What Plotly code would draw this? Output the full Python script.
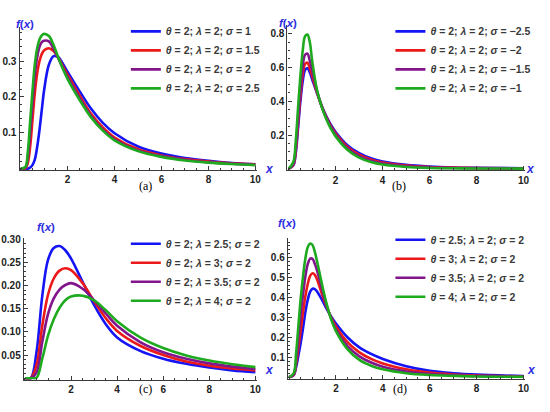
import plotly.graph_objects as go

# chart size
W, H = 550, 412

# colours of the four curves in every panel
colors = ["rgb(20,20,245)", "rgb(235,25,25)", "rgb(130,20,140)", "rgb(30,170,30)"]

# ---------- panel (a): theta = 2, lambda = 2, sigma varies ----------
x_a = [0, 0.2, 0.3, 0.4, 0.5, 0.6, 0.7, 0.8, 0.9, 1.0, 1.2, 1.4, 1.6, 1.8, 2.0, 2.5, 3, 3.5, 4, 5, 6, 7, 8, 9, 10]
a_sigma1 = [0, 0, 0, 0.003, 0.01, 0.025, 0.06, 0.108, 0.165, 0.22, 0.29, 0.314, 0.311, 0.292, 0.27, 0.217, 0.167, 0.128, 0.099, 0.062, 0.042, 0.030, 0.022, 0.016, 0.012]
a_sigma15 = [0, 0.001, 0.015, 0.06, 0.135, 0.21, 0.265, 0.30, 0.32, 0.33, 0.336, 0.328, 0.310, 0.285, 0.262, 0.205, 0.153, 0.115, 0.087, 0.054, 0.037, 0.027, 0.020, 0.015, 0.012]
a_sigma2 = [0, 0.003, 0.03, 0.10, 0.185, 0.26, 0.31, 0.34, 0.353, 0.357, 0.355, 0.335, 0.308, 0.28, 0.255, 0.198, 0.147, 0.109, 0.082, 0.051, 0.035, 0.025, 0.018, 0.014, 0.011]
a_sigma25 = [0, 0.005, 0.045, 0.13, 0.215, 0.29, 0.335, 0.36, 0.372, 0.376, 0.37, 0.345, 0.31, 0.278, 0.25, 0.193, 0.143, 0.106, 0.079, 0.049, 0.033, 0.023, 0.017, 0.013, 0.010]
a_names = ["<i>θ</i> = 2; <i>λ</i> = 2; <i>σ</i> = 1",
           "<i>θ</i> = 2; <i>λ</i> = 2; <i>σ</i> = 1.5",
           "<i>θ</i> = 2; <i>λ</i> = 2; <i>σ</i> = 2",
           "<i>θ</i> = 2; <i>λ</i> = 2; <i>σ</i> = 2.5"]
a_yticks = [0.1, 0.2, 0.3]

# ---------- panel (b): theta = 2, lambda = 2, negative sigma ----------
x_b = [0, 0.2, 0.3, 0.4, 0.5, 0.6, 0.7, 0.8, 0.9, 1.0, 1.2, 1.4, 1.6, 1.8, 2.0, 2.5, 3, 3.5, 4, 5, 6, 7, 8, 10]
b_sigma_m25 = [0, 0.02, 0.09, 0.24, 0.40, 0.52, 0.585, 0.595, 0.57, 0.53, 0.45, 0.375, 0.312, 0.26, 0.218, 0.14, 0.092, 0.062, 0.043, 0.023, 0.013, 0.008, 0.006, 0.003]
b_sigma_m2 = [0, 0.025, 0.105, 0.265, 0.43, 0.56, 0.62, 0.628, 0.595, 0.55, 0.455, 0.373, 0.307, 0.253, 0.21, 0.13, 0.083, 0.055, 0.037, 0.019, 0.011, 0.007, 0.004, 0.002]
b_sigma_m15 = [0, 0.03, 0.12, 0.29, 0.47, 0.61, 0.675, 0.682, 0.64, 0.58, 0.465, 0.373, 0.302, 0.247, 0.202, 0.122, 0.075, 0.048, 0.031, 0.015, 0.008, 0.005, 0.003, 0.002]
b_sigma_m1 = [0, 0.04, 0.16, 0.36, 0.55, 0.70, 0.785, 0.795, 0.75, 0.64, 0.47, 0.37, 0.295, 0.237, 0.192, 0.113, 0.066, 0.040, 0.025, 0.011, 0.005, 0.003, 0.002, 0.001]
b_names = ["<i>θ</i> = 2; <i>λ</i> = 2; <i>σ</i> = −2.5",
           "<i>θ</i> = 2; <i>λ</i> = 2; <i>σ</i> = −2",
           "<i>θ</i> = 2; <i>λ</i> = 2; <i>σ</i> = −1.5",
           "<i>θ</i> = 2; <i>λ</i> = 2; <i>σ</i> = −1"]
b_yticks = [0.2, 0.4, 0.6, 0.8]

# ---------- panel (c): theta = 2, sigma = 2, lambda varies ----------
x_c = [0, 0.25, 0.5, 0.75, 1.0, 1.25, 1.5, 1.75, 2.0, 2.5, 3.0, 3.5, 4, 5, 6, 7, 8, 9, 10]
c_lam25 = [0, 0, 0.056, 0.177, 0.255, 0.281, 0.285, 0.276, 0.258, 0.208, 0.158, 0.117, 0.088, 0.059, 0.042, 0.031, 0.023, 0.017, 0.013]
c_lam3 = [0, 0, 0.028, 0.113, 0.18, 0.215, 0.232, 0.237, 0.233, 0.205, 0.166, 0.13, 0.102, 0.07, 0.05, 0.036, 0.027, 0.021, 0.017]
c_lam35 = [0, 0, 0.012, 0.078, 0.138, 0.172, 0.191, 0.201, 0.205, 0.193, 0.168, 0.14, 0.113, 0.078, 0.056, 0.042, 0.032, 0.025, 0.02]
c_lam4 = [0, 0, 0.001, 0.042, 0.092, 0.127, 0.152, 0.168, 0.176, 0.178, 0.168, 0.147, 0.123, 0.088, 0.065, 0.049, 0.038, 0.03, 0.024]
c_names = ["<i>θ</i> = 2; <i>λ</i> = 2.5; <i>σ</i> = 2",
           "<i>θ</i> = 2; <i>λ</i> = 3; <i>σ</i> = 2",
           "<i>θ</i> = 2; <i>λ</i> = 3.5; <i>σ</i> = 2",
           "<i>θ</i> = 2; <i>λ</i> = 4; <i>σ</i> = 2"]
c_yticks = [0.05, 0.10, 0.15, 0.20, 0.25, 0.30]
c_ytext = ["0.05", "0.10", "0.15", "0.20", "0.25", "0.30"]

# ---------- panel (d): lambda = 2, sigma = 2, theta varies ----------
x_d = [0, 0.2, 0.3, 0.4, 0.5, 0.6, 0.7, 0.8, 0.9, 1.0, 1.1, 1.2, 1.4, 1.6, 1.8, 2.0, 2.5, 3, 3.5, 4, 5, 6, 7, 8, 10]
d_th25 = [0, 0.01, 0.05, 0.11, 0.175, 0.25, 0.33, 0.39, 0.43, 0.445, 0.443, 0.43, 0.39, 0.345, 0.305, 0.27, 0.2, 0.15, 0.117, 0.092, 0.055, 0.032, 0.02, 0.013, 0.006]
d_th3 = [0, 0.013, 0.065, 0.15, 0.24, 0.33, 0.41, 0.47, 0.51, 0.523, 0.515, 0.49, 0.42, 0.355, 0.30, 0.255, 0.175, 0.125, 0.092, 0.069, 0.04, 0.023, 0.014, 0.009, 0.004]
d_th35 = [0, 0.016, 0.08, 0.20, 0.32, 0.42, 0.51, 0.57, 0.596, 0.595, 0.57, 0.535, 0.445, 0.36, 0.295, 0.24, 0.155, 0.105, 0.074, 0.053, 0.029, 0.016, 0.01, 0.006, 0.003]
d_th4 = [0, 0.02, 0.12, 0.26, 0.40, 0.51, 0.60, 0.655, 0.672, 0.665, 0.63, 0.58, 0.47, 0.37, 0.29, 0.232, 0.14, 0.087, 0.058, 0.04, 0.02, 0.011, 0.007, 0.004, 0.002]
d_names = ["<i>θ</i> = 2.5; <i>λ</i> = 2; <i>σ</i> = 2",
           "<i>θ</i> = 3; <i>λ</i> = 2; <i>σ</i> = 2",
           "<i>θ</i> = 3.5; <i>λ</i> = 2; <i>σ</i> = 2",
           "<i>θ</i> = 4; <i>λ</i> = 2; <i>σ</i> = 2"]
d_yticks = [0.1, 0.2, 0.3, 0.4, 0.5, 0.6]

x_ticks = [2, 4, 6, 8, 10]
captions = ["(a)", "(b)", "(c)", "(d)"]


def x_domain(px0, px10, r0, r1):
    # pixel position of x=0 and x=10 -> paper domain for a given range
    unit = (px10 - px0) / 10
    return [(px0 + r0 * unit) / W, (px0 + r1 * unit) / W]


def y_domain(py0, unit, r0, r1):
    # pixel row of y=0 and pixels per unit -> paper domain
    return [1 - (py0 - r0 * unit) / H, 1 - (py0 - r1 * unit) / H]


tick_font = dict(family="Liberation Sans", size=10, color="#222222", weight="bold")
axis_color = "#3a3a3a"

panels = [
    dict(x=x_a, ys=[a_sigma1, a_sigma15, a_sigma2, a_sigma25], names=a_names,
         yt=a_yticks, ytext=["0.1", "0.2", "0.3"], px0=20.9, px10=257.7, py0=165.7, yu=363,
         yr=[-0.004, 0.395], ymin=0.02, leg=(127, 12), cap=(138, 183), fx=(14, 11), xl=(272, 166)),
    dict(x=x_b, ys=[b_sigma_m25, b_sigma_m2, b_sigma_m15, b_sigma_m1], names=b_names,
         yt=b_yticks, ytext=["0.2", "0.4", "0.6", "0.8"], px0=291.3, px10=528.3, py0=165.8, yu=171,
         yr=[-0.01, 0.85], ymin=0.05, leg=(394, 12), cap=(412, 183), fx=(291, 10), xl=(542, 166)),
    dict(x=x_c, ys=[c_lam25, c_lam3, c_lam35, c_lam4], names=c_names,
         yt=c_yticks, ytext=c_ytext, px0=25.2, px10=257.7, py0=377.8, yu=469.4,
         yr=[-0.003, 0.302], ymin=0.01, leg=(127, 227), cap=(138, 398), fx=(35, 225), xl=(272, 379)),
    dict(x=x_d, ys=[d_th25, d_th3, d_th35, d_th4], names=d_names,
         yt=d_yticks, ytext=["0.1", "0.2", "0.3", "0.4", "0.5", "0.6"], px0=291.7, px10=528.3, py0=376.8, yu=201.3,
         yr=[-0.007, 0.70], ymin=0.02, leg=(394, 223), cap=(413, 398), fx=(290, 221), xl=(543, 379)),
]

fig = go.Figure()
layout = dict(width=W, height=H, margin=dict(l=0, r=0, t=0, b=0),
              paper_bgcolor="white", plot_bgcolor="white", annotations=[])

for i, p in enumerate(panels):
    n = "" if i == 0 else str(i + 1)
    legend_id = "legend" + n
    # add the four curves
    for ys, name, col in zip(p["ys"], p["names"], colors):
        fig.add_trace(
            go.Scatter(
                x=p["x"], y=ys, name=name, mode="lines",
                line=dict(color=col, width=2.6, shape="spline", smoothing=1.0),
                xaxis="x" + n, yaxis="y" + n, legend=legend_id,
            )
        )

    xr = [-0.05, 10.05]
    layout["xaxis" + n] = dict(
        domain=x_domain(p["px0"], p["px10"], xr[0], xr[1]), range=xr, anchor="y" + n,
        showgrid=False, zeroline=False, showline=True, linecolor=axis_color, linewidth=1.2,
        tickvals=x_ticks, ticks="inside", ticklen=4, tickcolor=axis_color, tickfont=tick_font,
        minor=dict(ticks="inside", ticklen=2, dtick=0.5, tick0=0, tickcolor=axis_color),
        fixedrange=True,
    )
    layout["yaxis" + n] = dict(
        domain=y_domain(p["py0"], p["yu"], p["yr"][0], p["yr"][1]), range=p["yr"], anchor="x" + n,
        showgrid=False, zeroline=False, showline=True, linecolor=axis_color, linewidth=1.2,
        tickvals=p["yt"], ticktext=p["ytext"], ticks="inside", ticklen=4, tickcolor=axis_color,
        tickfont=tick_font,
        minor=dict(ticks="inside", ticklen=2, dtick=p["ymin"], tick0=0, tickcolor=axis_color),
        fixedrange=True,
    )
    layout[legend_id] = dict(
        x=p["leg"][0] / W, y=1 - p["leg"][1] / H, xanchor="left", yanchor="top",
        bgcolor="rgba(0,0,0,0)", borderwidth=0,
        font=dict(family="Liberation Sans", size=10.5, color="#3a3a3a", weight="bold"),
    )

    # caption under each panel
    layout["annotations"].append(dict(
        text=captions[i], x=p["cap"][0] / W, y=1 - p["cap"][1] / H, xref="paper", yref="paper",
        showarrow=False, font=dict(family="Liberation Serif", size=12, color="black")))
    # axis labels in blue
    layout["annotations"].append(dict(
        text="<b><i>f</i>(<i>x</i>)</b>", x=p["fx"][0] / W, y=1 - p["fx"][1] / H, xref="paper", yref="paper",
        showarrow=False, font=dict(family="Liberation Sans", size=11.5, color="rgb(45,45,225)")))
    layout["annotations"].append(dict(
        text="<b><i>x</i></b>", x=p["xl"][0] / W, y=1 - p["xl"][1] / H, xref="paper", yref="paper",
        showarrow=False, font=dict(family="Liberation Sans", size=12, color="rgb(45,45,225)")))

fig.update_layout(**layout)
# the page's default body margin would push the figure 8px off its place
fig.write_html("out.html", config={"displayModeBar": False},
               post_script="document.body.style.margin='0';")
